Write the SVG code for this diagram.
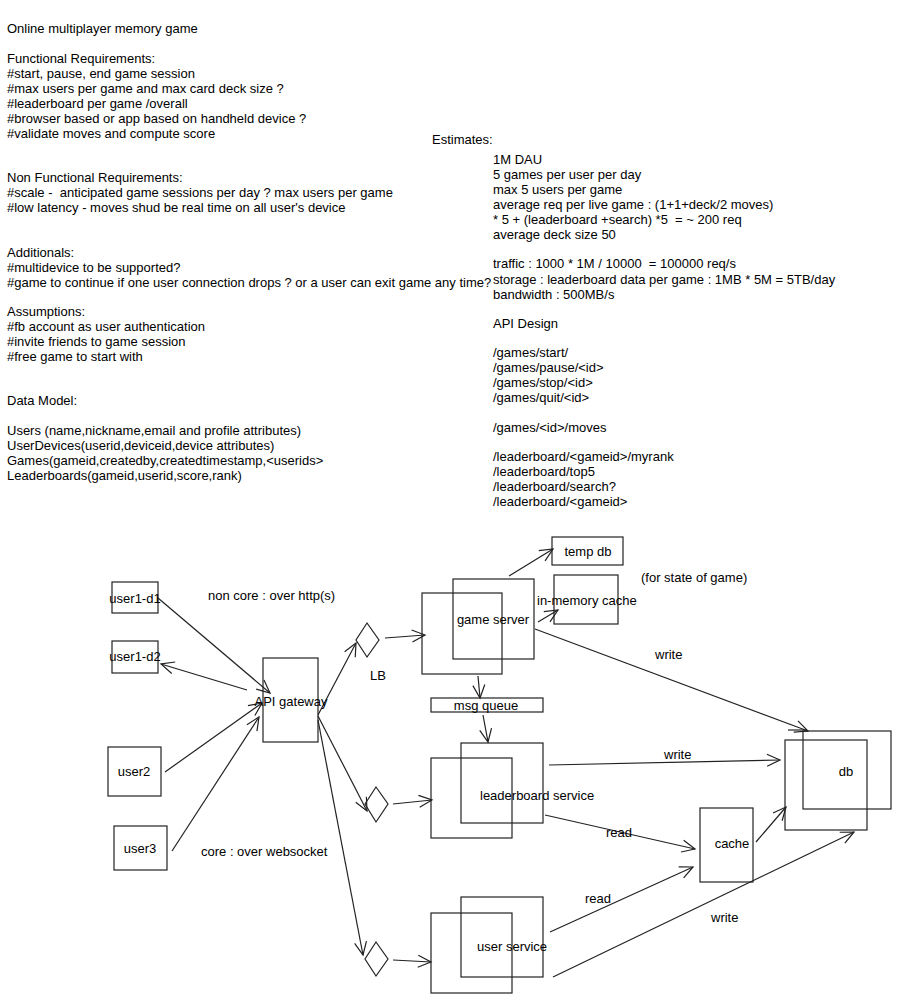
<svg xmlns="http://www.w3.org/2000/svg" width="897" height="1000" viewBox="0 0 897 1000">
<style>
text{font-family:"Liberation Sans",Arial,sans-serif;font-size:13px;fill:#000;white-space:pre}
.c{text-anchor:middle}
.b{fill:none;stroke:#222;stroke-width:1.2}
.l{fill:none;stroke:#222;stroke-width:1.2}
</style>
<defs>
<marker id="ah" markerUnits="userSpaceOnUse" markerWidth="16" markerHeight="14" refX="14" refY="7" orient="auto">
<path d="M1,1 L14,7 L1,13" fill="none" stroke="#222" stroke-width="1.2"/>
</marker>
</defs>
<rect width="897" height="1000" fill="#fff"/>
<g id="notes-left">
<text x="7" y="33">Online multiplayer memory game</text>
<text x="7" y="63">Functional Requirements:</text>
<text x="7" y="78">#start, pause, end game session</text>
<text x="7" y="93">#max users per game and max card deck size ?</text>
<text x="7" y="108">#leaderboard per game /overall</text>
<text x="7" y="123">#browser based or app based on handheld device ?</text>
<text x="7" y="138">#validate moves and compute score</text>
<text x="7" y="182">Non Functional Requirements:</text>
<text x="7" y="197" xml:space="preserve">#scale -  anticipated game sessions per day ? max users per game</text>
<text x="7" y="212">#low latency - moves shud be real time on all user's device</text>
<text x="7" y="257">Additionals:</text>
<text x="7" y="272">#multidevice to be supported?</text>
<text x="7" y="287">#game to continue if one user connection drops ? or a user can exit game any time?</text>
<text x="7" y="316">Assumptions:</text>
<text x="7" y="331">#fb account as user authentication</text>
<text x="7" y="346">#invite friends to game session</text>
<text x="7" y="361">#free game to start with</text>
<text x="7" y="405">Data Model:</text>
<text x="7" y="435">Users (name,nickname,email and profile attributes)</text>
<text x="7" y="450">UserDevices(userid,deviceid,device attributes)</text>
<text x="7" y="465">Games(gameid,createdby,createdtimestamp,&lt;userids&gt;</text>
<text x="7" y="480">Leaderboards(gameid,userid,score,rank)</text>
</g>
<g id="notes-right">
<text x="432" y="144">Estimates:</text>
<text x="493" y="164">1M DAU</text>
<text x="493" y="179">5 games per user per day</text>
<text x="493" y="194">max 5 users per game</text>
<text x="493" y="209">average req per live game : (1+1+deck/2 moves)</text>
<text x="493" y="224" xml:space="preserve">* 5 + (leaderboard +search) *5  = ~ 200 req</text>
<text x="493" y="239">average deck size 50</text>
<text x="493" y="268" xml:space="preserve">traffic : 1000 * 1M / 10000  = 100000 req/s</text>
<text x="493" y="284">storage : leaderboard data per game : 1MB * 5M = 5TB/day</text>
<text x="493" y="299">bandwidth : 500MB/s</text>
<text x="493" y="328">API Design</text>
<text x="493" y="357">/games/start/</text>
<text x="493" y="372">/games/pause/&lt;id&gt;</text>
<text x="493" y="387">/games/stop/&lt;id&gt;</text>
<text x="493" y="402">/games/quit/&lt;id&gt;</text>
<text x="493" y="432">/games/&lt;id&gt;/moves</text>
<text x="493" y="461">/leaderboard/&lt;gameid&gt;/myrank</text>
<text x="493" y="476">/leaderboard/top5</text>
<text x="493" y="491">/leaderboard/search?</text>
<text x="493" y="506">/leaderboard/&lt;gameid&gt;</text>
</g>
<g id="connectors">
<line class="l" x1="158" y1="598" x2="270" y2="693" marker-end="url(#ah)"/>
<line class="l" x1="247" y1="690" x2="161" y2="664" marker-end="url(#ah)"/>
<line class="l" x1="165" y1="772" x2="262" y2="703" marker-end="url(#ah)"/>
<line class="l" x1="172" y1="851" x2="259" y2="717" marker-end="url(#ah)"/>
<line class="l" x1="318" y1="715" x2="356" y2="643" marker-end="url(#ah)"/>
<line class="l" x1="318" y1="716" x2="367" y2="811" marker-end="url(#ah)"/>
<line class="l" x1="318" y1="720" x2="363" y2="955" marker-end="url(#ah)"/>
<line class="l" x1="385" y1="638" x2="425" y2="635" marker-end="url(#ah)"/>
<line class="l" x1="393" y1="804" x2="432" y2="800" marker-end="url(#ah)"/>
<line class="l" x1="393" y1="960" x2="431" y2="962" marker-end="url(#ah)"/>
<line class="l" x1="509" y1="576" x2="553" y2="549" marker-end="url(#ah)"/>
<line class="l" x1="538" y1="622" x2="558" y2="610" marker-end="url(#ah)"/>
<line class="l" x1="535" y1="629" x2="808" y2="731" marker-end="url(#ah)"/>
<line class="l" x1="788" y1="730" x2="807" y2="730"/>
<line class="l" x1="478" y1="676" x2="480" y2="698" marker-end="url(#ah)"/>
<line class="l" x1="483" y1="715" x2="488" y2="742" marker-end="url(#ah)"/>
<line class="l" x1="549" y1="765" x2="780" y2="760" marker-end="url(#ah)"/>
<line class="l" x1="545" y1="815" x2="695" y2="849" marker-end="url(#ah)"/>
<line class="l" x1="756" y1="842" x2="786" y2="807" marker-end="url(#ah)"/>
<line class="l" x1="550" y1="932" x2="693" y2="867" marker-end="url(#ah)"/>
<line class="l" x1="553" y1="977" x2="854" y2="832" marker-end="url(#ah)"/>
<text x="208" y="600">non core : over http(s)</text>
<text x="201" y="856">core : over websocket</text>
<text x="655" y="659">write</text>
<text x="664" y="759">write</text>
<text x="606" y="837">read</text>
<text x="585" y="903">read</text>
<text x="711" y="922">write</text>
</g>
<g id="user1-d1">
<rect class="b" x="112" y="582" width="46" height="31"/>
<text class="c" x="135" y="603">user1-d1</text>
</g>
<g id="user1-d2">
<rect class="b" x="112" y="641" width="46" height="32"/>
<text class="c" x="135" y="661">user1-d2</text>
</g>
<g id="user2">
<rect class="b" x="108" y="747" width="53" height="49"/>
<text class="c" x="134" y="776">user2</text>
</g>
<g id="user3">
<rect class="b" x="114" y="826" width="53" height="44"/>
<text class="c" x="140" y="853">user3</text>
</g>
<g id="api-gateway">
<rect class="b" x="263" y="658" width="55" height="84"/>
<text class="c" x="291" y="706">API gateway</text>
</g>
<g id="lb1">
<path class="b" d="M367,623 L379,640 L367,657 L356,640 Z"/>
<text x="370" y="680">LB</text>
</g>
<g id="lb2">
<path class="b" d="M376,787 L388,804 L376,822 L365,804 Z"/>
</g>
<g id="lb3">
<path class="b" d="M376,942 L388,959 L376,976 L365,959 Z"/>
</g>
<g id="game-server">
<rect class="b" x="422" y="593" width="80" height="81"/>
<rect class="b" x="453" y="579" width="81" height="80"/>
<text class="c" x="493" y="624">game server</text>
</g>
<g id="temp-db">
<rect class="b" x="552" y="537" width="71" height="28"/>
<text class="c" x="588" y="556">temp db</text>
</g>
<g id="in-memory-cache">
<rect class="b" x="554" y="575" width="64" height="49"/>
<text x="537" y="605">in-memory cache</text>
<text x="641" y="582">(for state of game)</text>
</g>
<g id="msg-queue">
<rect class="b" x="431" y="698" width="112" height="14"/>
<text class="c" x="486" y="710">msg queue</text>
</g>
<g id="leaderboard-service">
<rect class="b" x="431" y="758" width="81" height="80"/>
<rect class="b" x="461" y="743" width="82" height="80"/>
<text x="480" y="800">leaderboard service</text>
</g>
<g id="user-service">
<rect class="b" x="431" y="913" width="81" height="80"/>
<rect class="b" x="461" y="897" width="82" height="80"/>
<text x="477" y="951">user service</text>
</g>
<g id="cache">
<rect class="b" x="700" y="808" width="53" height="74"/>
<text class="c" x="732" y="848">cache</text>
</g>
<g id="db">
<rect class="b" x="785" y="740" width="82" height="90"/>
<rect class="b" x="803" y="731" width="88" height="78"/>
<text class="c" x="846" y="776">db</text>
</g>
</svg>
